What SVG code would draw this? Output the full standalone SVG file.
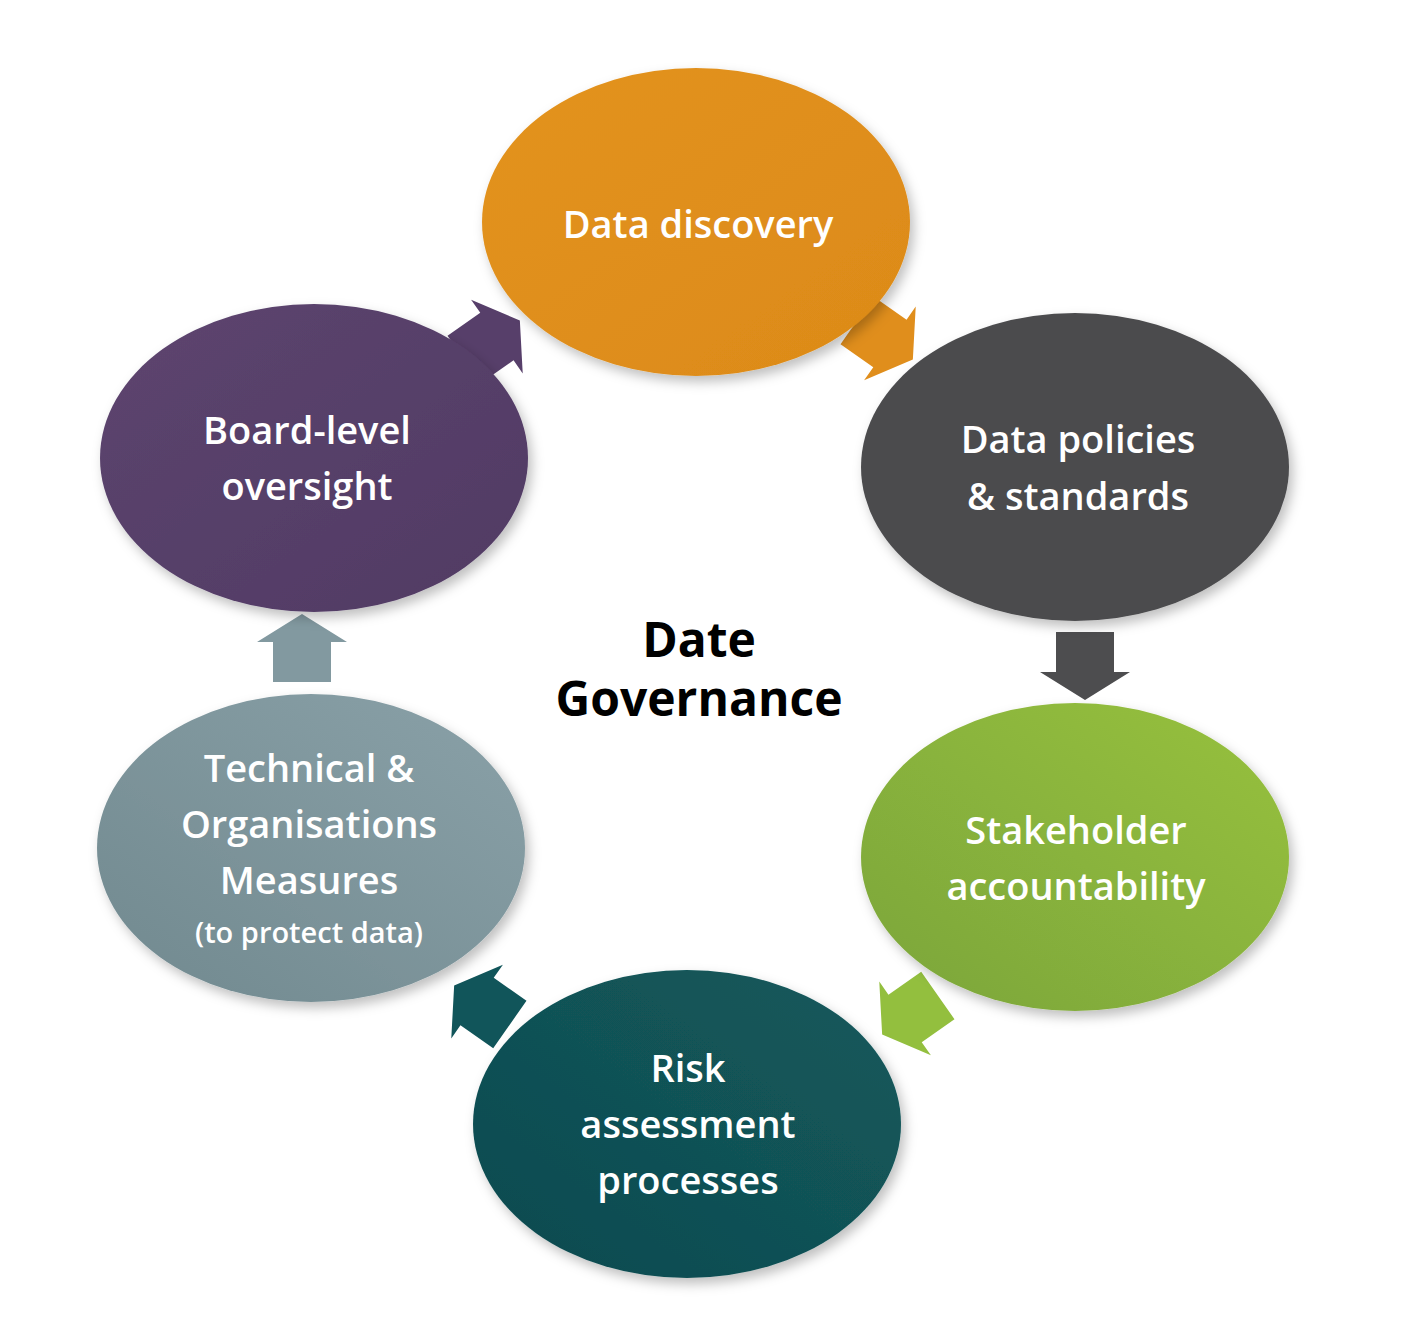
<svg xmlns="http://www.w3.org/2000/svg" width="1412" height="1336" viewBox="0 0 1412 1336">
<defs>
<style>
.t{font-family:"Open Sans","Liberation Sans",sans-serif;font-weight:600;fill:#fff;text-anchor:middle;font-size:38px}
.s{font-size:29px}
.c{font-family:"Open Sans","Liberation Sans",sans-serif;font-weight:700;fill:#000;text-anchor:middle;font-size:48px}
</style>
<path id="arr" d="M-34,-29 H6 V-45 L34,0 L6,45 V29 H-34 Z"/>
<filter id="sh" x="-10%" y="-10%" width="125%" height="125%"><feDropShadow dx="4" dy="6" stdDeviation="6" flood-color="#000" flood-opacity="0.25"/></filter>
<linearGradient id="g1" x1="0" y1="0" x2="1" y2="1"><stop offset="0" stop-color="#e3931f"/><stop offset="1" stop-color="#dc8a18"/></linearGradient>
<linearGradient id="g3" x1="1" y1="0" x2="0" y2="1"><stop offset="0" stop-color="#97c13e"/><stop offset="1" stop-color="#7ba53a"/></linearGradient>
<linearGradient id="g4" x1="1" y1="0" x2="0" y2="1"><stop offset="0" stop-color="#14595c"/><stop offset="1" stop-color="#0e4a4f"/></linearGradient>
<linearGradient id="g5" x1="1" y1="0" x2="0" y2="1"><stop offset="0" stop-color="#8aa1a8"/><stop offset="1" stop-color="#71898f"/></linearGradient>
<linearGradient id="g6" x1="0" y1="0" x2="1" y2="1"><stop offset="0" stop-color="#5d456f"/><stop offset="1" stop-color="#503a63"/></linearGradient>
</defs>
<g id="connectors">
<use href="#arr" fill="#573f6a" transform="translate(492,340) rotate(-35)"/>
<use href="#arr" fill="#e08e1c" transform="translate(885,340) rotate(35)"/>
<use href="#arr" fill="#4d4d4f" transform="translate(1085,666) rotate(90)"/>
<use href="#arr" fill="#93bf3e" transform="translate(910,1015) rotate(145)"/>
<use href="#arr" fill="#11555a" transform="translate(482,1005) rotate(-145)"/>
<use href="#arr" fill="#8299a0" transform="translate(302,648) rotate(-90)"/>
</g>
<g id="discovery"><ellipse cx="696" cy="222" rx="214" ry="154" fill="url(#g1)" filter="url(#sh)"/><text class="t" x="698" y="238">Data discovery</text></g>
<g id="policies"><ellipse cx="1075" cy="467" rx="214" ry="154" fill="#4c4c4e" filter="url(#sh)"/><text class="t" x="1078" y="453">Data policies</text><text class="t" x="1078" y="510">&amp; standards</text></g>
<g id="stakeholder"><ellipse cx="1075" cy="857" rx="214" ry="154" fill="url(#g3)" filter="url(#sh)"/><text class="t" x="1076" y="844">Stakeholder</text><text class="t" x="1076" y="900">accountability</text></g>
<g id="risk"><ellipse cx="687" cy="1124" rx="214" ry="154" fill="url(#g4)" filter="url(#sh)"/><text class="t" x="688" y="1082">Risk</text><text class="t" x="688" y="1138">assessment</text><text class="t" x="688" y="1194">processes</text></g>
<g id="technical"><ellipse cx="311" cy="848" rx="214" ry="154" fill="url(#g5)" filter="url(#sh)"/><text class="t" x="309" y="782">Technical &amp;</text><text class="t" x="309" y="838">Organisations</text><text class="t" x="309" y="894">Measures</text><text class="t s" x="309" y="943">(to protect data)</text></g>
<g id="board"><ellipse cx="314" cy="458" rx="214" ry="154" fill="url(#g6)" filter="url(#sh)"/><text class="t" x="307" y="444">Board-level</text><text class="t" x="307" y="500">oversight</text></g>
<g id="center"><text class="c" x="699" y="657">Date</text><text class="c" x="699" y="716">Governance</text></g>
</svg>
